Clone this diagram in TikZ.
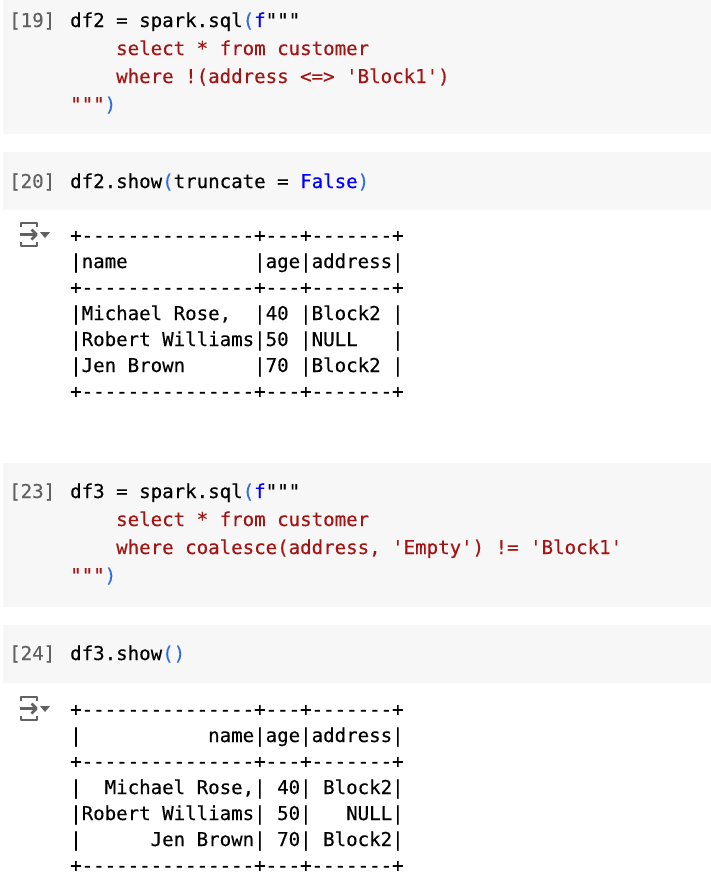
\documentclass[tikz,border=0pt]{standalone}
\usepackage{fontspec}
\setmonofont{DejaVu Sans Mono}[FakeBold=0.3]
\usetikzlibrary{positioning}
\definecolor{cellgray}{HTML}{F7F7F7}
\definecolor{strred}{HTML}{A31515}
\definecolor{kwblue}{HTML}{0000FF}
\definecolor{brblue}{HTML}{2F6FE0}
\definecolor{numgray}{HTML}{616161}
\tikzset{
  code/.style={anchor=base west,inner sep=0pt,font=\ttfamily\fontsize{19.1}{26}\selectfont},
  num/.style={code,text=numgray},
  sqltext/.style={code,text=strred},
  icon/.style={draw=numgray,line width=2.7pt,line join=round}
}
\begin{document}
\begin{tikzpicture}[x=1pt,y=-1pt]
	\useasboundingbox[fill=white] (0,0) rectangle (711,892);
	% cell backgrounds
	\fill[cellgray] (3,0) rectangle (711,134);
	\fill[cellgray] (3,152) rectangle (711,210);
	\fill[cellgray] (3,463) rectangle (711,607);
	\fill[cellgray] (3,625) rectangle (711,683);
	% cell 19
	\node (n19) at (9,27) [num] {[19]};
	\node (c19a) at (70,27) [code] {df2 = spark.sql\textcolor{brblue}{(}\textcolor{kwblue}{f}"""};
	\node (c19b) at (116,55) [sqltext] {select * from customer};
	\node (c19c) at (116,83) [sqltext] {where !(address <=> 'Block1')};
	\node (c19d) at (70,111) [sqltext] {"""\textcolor{brblue}{)}};
	% cell 20
	\node (n20) at (9,188) [num] {[20]};
	\node (c20a) at (70,188) [code] {df2.show\textcolor{brblue}{(}truncate = \textcolor{kwblue}{False}\textcolor{brblue}{)}};
	% output of cell 20
	\foreach \row [count=\i] in {
		{+---------------+---+-------+},
		{|name~~~~~~~~~~~|age|address|},
		{+---------------+---+-------+},
		{|Michael Rose,~~|40~|Block2~|},
		{|Robert Williams|50~|NULL~~~|},
		{|Jen Brown~~~~~~|70~|Block2~|},
		{+---------------+---+-------+}}
		\node (ta\i) at (70,{216+26*\i}) [code] {\row};
	% cell 23
	\node (n23) at (9,498) [num] {[23]};
	\node (c23a) at (70,498) [code] {df3 = spark.sql\textcolor{brblue}{(}\textcolor{kwblue}{f}"""};
	\node (c23b) at (116,526) [sqltext] {select * from customer};
	\node (c23c) at (116,554) [sqltext] {where coalesce(address, 'Empty') != 'Block1'};
	\node (c23d) at (70,582) [sqltext] {"""\textcolor{brblue}{)}};
	% cell 24
	\node (n24) at (9,660) [num] {[24]};
	\node (c24a) at (70,660) [code] {df3.show\textcolor{brblue}{()}};
	% output of cell 24
	\foreach \row [count=\i] in {
		{+---------------+---+-------+},
		{|~~~~~~~~~~~name|age|address|},
		{+---------------+---+-------+},
		{|~~Michael Rose,|~40|~Block2|},
		{|Robert Williams|~50|~~~NULL|},
		{|~~~~~~Jen Brown|~70|~Block2|},
		{+---------------+---+-------+}}
		\node (tb\i) at (70,{690+26*\i}) [code] {\row};
	% output icons
	\foreach \oy in {0,474}{
		\begin{scope}[shift={(0,\oy)}]
			\draw[icon] (21,227) -- (21,223) -- (37,223) -- (37,227);
			\draw[icon] (21,242) -- (21,246) -- (37,246) -- (37,242);
			\draw[icon] (20,234.5) -- (36,234.5);
			\draw[icon] (31.5,229.5) -- (36.5,234.5) -- (31.5,239.5);
			\fill[numgray] (40,232) -- (50,232) -- (45,238) -- cycle;
		\end{scope}
	}
\end{tikzpicture}
\end{document}
